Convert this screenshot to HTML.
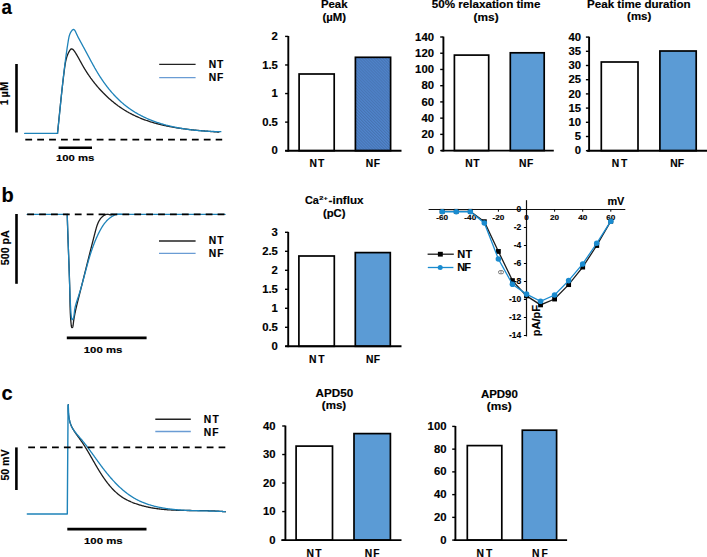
<!DOCTYPE html><html><head><meta charset="utf-8"><style>html,body{margin:0;padding:0;background:#fff;}svg{display:block;}text{font-family:"Liberation Sans", sans-serif;stroke:#000;stroke-width:0.15px;}</style></head><body>
<svg width="707" height="557" viewBox="0 0 707 557">
<defs><pattern id="hatch" width="2.1" height="2.1" patternUnits="userSpaceOnUse" patternTransform="rotate(-45)"><rect width="2.1" height="2.1" fill="#4f84cc"/><rect width="1" height="2.1" fill="#4774b2"/></pattern></defs>
<rect width="707" height="557" fill="#fff"/>
<text x="1.60" y="13.70" font-size="20.00" font-weight="bold" text-anchor="start" fill="#000" textLength="10.40" lengthAdjust="spacingAndGlyphs" >a</text>
<line x1="16.50" y1="64.00" x2="16.50" y2="132.50" stroke="#000" stroke-width="2.60" />
<text transform="translate(8.4,105.3) rotate(-90)" font-size="10.5" font-weight="bold">1</text>
<text transform="translate(8.4,97.4) rotate(-90)" font-size="10.5" font-weight="bold" textLength="15.4" lengthAdjust="spacingAndGlyphs">µM</text>
<path d="M24.7,133.4 L57.5,133.4" fill="none" stroke="#1e83b9" stroke-width="1.40" stroke-linejoin="round" stroke-linecap="round"/>
<path d="M57.50,133.41 L57.58,132.70 L57.65,131.99 L57.72,131.28 L57.79,130.57 L57.86,129.86 L57.94,129.16 L58.01,128.45 L58.08,127.75 L58.15,127.04 L58.22,126.34 L58.29,125.64 L58.36,124.94 L58.43,124.23 L58.50,123.53 L58.57,122.84 L58.65,122.14 L58.72,121.44 L58.79,120.74 L58.86,120.04 L58.93,119.35 L59.00,118.65 L59.07,117.96 L59.14,117.26 L59.21,116.57 L59.28,115.87 L59.35,115.18 L59.42,114.49 L59.49,113.79 L59.55,113.10 L59.62,112.41 L59.69,111.72 L59.77,111.03 L59.84,110.34 L59.91,109.65 L59.98,108.96 L60.05,108.27 L60.12,107.58 L60.19,106.89 L60.26,106.20 L60.33,105.51 L60.40,104.82 L60.47,104.13 L60.54,103.44 L60.61,102.75 L60.69,102.07 L60.76,101.38 L60.83,100.69 L60.90,100.00 L60.97,99.31 L61.05,98.62 L61.12,97.93 L61.19,97.24 L61.27,96.56 L61.34,95.87 L61.41,95.18 L61.49,94.49 L61.56,93.80 L61.64,93.11 L61.71,92.42 L61.79,91.73 L61.86,91.04 L61.94,90.35 L62.02,89.66 L62.09,88.97 L62.17,88.27 L62.25,87.58 L62.32,86.89 L62.40,86.20 L62.48,85.50 L62.56,84.81 L62.64,84.11 L62.72,83.42 L62.80,82.72 L62.88,82.03 L62.96,81.33 L63.04,80.64 L63.13,79.94 L63.21,79.24 L63.29,78.54 L63.38,77.84 L63.46,77.14 L63.55,76.44 L63.63,75.74 L63.72,75.04 L63.80,74.33 L63.89,73.63 L63.98,72.92 L64.07,72.22 L64.15,71.51 L64.24,70.80 L64.33,70.10 L64.42,69.39 L64.52,68.68 L64.61,67.97 L64.71,67.26 L64.80,66.55 L64.91,65.84 L65.01,65.13 L65.12,64.43 L65.24,63.73 L65.36,63.03 L65.49,62.33 L65.63,61.63 L65.77,60.94 L65.93,60.26 L66.09,59.58 L66.26,58.90 L66.44,58.23 L66.63,57.56 L66.84,56.90 L67.05,56.25 L67.28,55.60 L67.52,54.96 L67.78,54.33 L68.05,53.70 L68.33,53.08 L68.63,52.48 L68.95,51.88 L69.28,51.29 L69.63,50.71 L70.00,50.14 L70.39,49.60 L70.80,49.15 L71.25,48.88 L71.73,48.85 L72.22,49.03 L72.73,49.36 L73.22,49.79 L73.69,50.30 L74.15,50.86 L74.59,51.47 L75.02,52.10 L75.44,52.76 L75.85,53.41 L76.24,54.06 L76.63,54.70 L77.01,55.35 L77.39,55.98 L77.75,56.62 L78.11,57.25 L78.47,57.87 L78.81,58.50 L79.16,59.12 L79.50,59.74 L79.83,60.35 L80.17,60.96 L80.50,61.57 L80.83,62.18 L81.16,62.79 L81.49,63.39 L81.83,63.99 L82.16,64.59 L82.49,65.19 L82.83,65.79 L83.17,66.38 L83.52,66.98 L83.87,67.57 L84.22,68.17 L84.57,68.76 L84.93,69.35 L85.30,69.94 L85.66,70.53 L86.03,71.12 L86.40,71.70 L86.78,72.28 L87.16,72.87 L87.54,73.45 L87.92,74.03 L88.31,74.61 L88.71,75.18 L89.10,75.76 L89.50,76.33 L89.90,76.90 L90.31,77.47 L90.71,78.04 L91.13,78.60 L91.54,79.17 L91.96,79.73 L92.38,80.29 L92.80,80.85 L93.23,81.41 L93.66,81.96 L94.09,82.51 L94.53,83.06 L94.97,83.61 L95.41,84.16 L95.86,84.70 L96.31,85.24 L96.76,85.78 L97.21,86.32 L97.67,86.85 L98.13,87.39 L98.59,87.92 L99.06,88.44 L99.53,88.97 L100.00,89.49 L100.48,90.01 L100.95,90.53 L101.43,91.04 L101.92,91.55 L102.41,92.06 L102.89,92.57 L103.39,93.07 L103.88,93.57 L104.38,94.07 L104.88,94.57 L105.38,95.06 L105.89,95.55 L106.40,96.03 L106.91,96.52 L107.42,97.00 L107.94,97.47 L108.46,97.95 L108.98,98.42 L109.51,98.89 L110.03,99.35 L110.56,99.81 L111.10,100.27 L111.63,100.73 L112.17,101.18 L112.71,101.62 L113.25,102.07 L113.80,102.51 L114.35,102.95 L114.90,103.38 L115.45,103.81 L116.01,104.24 L116.56,104.66 L117.12,105.08 L117.69,105.49 L118.25,105.91 L118.82,106.31 L119.39,106.72 L119.96,107.12 L120.54,107.51 L121.11,107.91 L121.69,108.29 L122.28,108.68 L122.86,109.06 L123.45,109.44 L124.04,109.81 L124.63,110.18 L125.22,110.54 L125.82,110.90 L126.41,111.25 L127.01,111.61 L127.62,111.95 L128.22,112.29 L128.83,112.63 L129.43,112.97 L130.05,113.30 L130.66,113.62 L131.27,113.94 L131.89,114.26 L132.51,114.57 L133.13,114.88 L133.75,115.19 L134.38,115.49 L135.00,115.78 L135.63,116.08 L136.26,116.37 L136.89,116.65 L137.53,116.93 L138.16,117.21 L138.80,117.48 L139.44,117.75 L140.08,118.02 L140.73,118.28 L141.37,118.54 L142.02,118.80 L142.66,119.05 L143.31,119.30 L143.96,119.54 L144.62,119.79 L145.27,120.02 L145.92,120.26 L146.58,120.49 L147.24,120.72 L147.90,120.94 L148.56,121.16 L149.22,121.38 L149.89,121.59 L150.55,121.81 L151.22,122.01 L151.89,122.22 L152.55,122.42 L153.22,122.62 L153.90,122.82 L154.57,123.01 L155.24,123.20 L155.92,123.38 L156.59,123.57 L157.27,123.75 L157.95,123.93 L158.63,124.10 L159.30,124.28 L159.99,124.45 L160.67,124.61 L161.35,124.78 L162.03,124.94 L162.72,125.10 L163.40,125.25 L164.09,125.41 L164.78,125.56 L165.46,125.71 L166.15,125.85 L166.84,126.00 L167.53,126.14 L168.22,126.28 L168.91,126.42 L169.61,126.55 L170.30,126.68 L170.99,126.81 L171.68,126.94 L172.38,127.06 L173.07,127.19 L173.77,127.31 L174.46,127.43 L175.16,127.54 L175.86,127.66 L176.55,127.77 L177.25,127.88 L177.95,127.99 L178.64,128.10 L179.34,128.20 L180.04,128.31 L180.74,128.41 L181.44,128.51 L182.14,128.61 L182.84,128.70 L183.54,128.80 L184.23,128.89 L184.93,128.98 L185.63,129.07 L186.33,129.16 L187.03,129.24 L187.73,129.33 L188.43,129.41 L189.13,129.49 L189.83,129.57 L190.53,129.65 L191.23,129.73 L191.93,129.81 L192.62,129.88 L193.32,129.96 L194.02,130.03 L194.72,130.10 L195.42,130.17 L196.11,130.24 L196.81,130.31 L197.51,130.38 L198.20,130.44 L198.90,130.51 L199.59,130.57 L200.29,130.63 L200.98,130.70 L201.68,130.76 L202.37,130.82 L203.06,130.88 L203.76,130.94 L204.45,130.99 L205.14,131.05 L205.83,131.11 L206.52,131.16 L207.21,131.22 L207.90,131.27 L208.58,131.33 L209.27,131.38 L209.96,131.44 L210.64,131.49 L211.32,131.54 L212.01,131.59 L212.69,131.64 L213.37,131.70 L214.05,131.75 L214.73,131.80 L215.41,131.85 L216.09,131.90 L216.76,131.95 L217.44,132.00 L218.11,132.05 L218.79,132.10" fill="none" stroke="#1c1c1c" stroke-width="1.30" stroke-linejoin="round" stroke-linecap="round"/>
<path d="M57.49,133.42 L57.57,132.71 L57.65,132.01 L57.72,131.31 L57.80,130.61 L57.88,129.91 L57.96,129.21 L58.03,128.50 L58.11,127.80 L58.18,127.10 L58.26,126.40 L58.33,125.70 L58.41,125.01 L58.48,124.31 L58.56,123.61 L58.63,122.91 L58.70,122.21 L58.77,121.51 L58.85,120.81 L58.92,120.12 L58.99,119.42 L59.06,118.72 L59.14,118.02 L59.21,117.33 L59.28,116.63 L59.35,115.93 L59.42,115.24 L59.49,114.54 L59.56,113.85 L59.63,113.15 L59.70,112.46 L59.77,111.76 L59.84,111.07 L59.91,110.37 L59.98,109.68 L60.05,108.98 L60.12,108.29 L60.19,107.59 L60.26,106.90 L60.33,106.20 L60.40,105.51 L60.47,104.82 L60.54,104.12 L60.61,103.43 L60.68,102.74 L60.75,102.04 L60.82,101.35 L60.89,100.66 L60.96,99.96 L61.03,99.27 L61.10,98.58 L61.17,97.89 L61.24,97.19 L61.31,96.50 L61.38,95.81 L61.45,95.12 L61.52,94.42 L61.59,93.73 L61.66,93.04 L61.73,92.35 L61.80,91.65 L61.87,90.96 L61.95,90.27 L62.02,89.58 L62.09,88.88 L62.16,88.19 L62.23,87.50 L62.31,86.81 L62.38,86.12 L62.45,85.42 L62.53,84.73 L62.60,84.04 L62.68,83.35 L62.75,82.66 L62.83,81.96 L62.90,81.27 L62.98,80.58 L63.05,79.89 L63.13,79.19 L63.21,78.50 L63.29,77.81 L63.36,77.12 L63.44,76.42 L63.52,75.73 L63.60,75.04 L63.68,74.34 L63.76,73.65 L63.84,72.96 L63.92,72.26 L64.00,71.57 L64.09,70.88 L64.17,70.18 L64.25,69.49 L64.34,68.80 L64.42,68.10 L64.51,67.41 L64.59,66.71 L64.68,66.02 L64.76,65.32 L64.85,64.63 L64.94,63.93 L65.03,63.24 L65.12,62.54 L65.21,61.85 L65.30,61.15 L65.39,60.46 L65.48,59.76 L65.57,59.07 L65.67,58.37 L65.76,57.67 L65.86,56.98 L65.95,56.28 L66.05,55.58 L66.15,54.88 L66.24,54.19 L66.34,53.49 L66.44,52.79 L66.54,52.09 L66.64,51.39 L66.75,50.69 L66.85,49.99 L66.95,49.30 L67.06,48.60 L67.16,47.90 L67.27,47.20 L67.38,46.49 L67.49,45.79 L67.60,45.09 L67.71,44.39 L67.82,43.69 L67.93,42.99 L68.04,42.28 L68.16,41.58 L68.27,40.88 L68.39,40.18 L68.51,39.47 L68.63,38.77 L68.76,38.08 L68.91,37.39 L69.07,36.70 L69.24,36.03 L69.43,35.36 L69.64,34.70 L69.88,34.06 L70.14,33.43 L70.43,32.82 L70.76,32.22 L71.11,31.64 L71.50,31.08 L71.93,30.55 L72.39,30.07 L72.86,29.71 L73.32,29.51 L73.76,29.52 L74.18,29.73 L74.58,30.10 L74.96,30.61 L75.32,31.22 L75.67,31.91 L76.01,32.65 L76.35,33.41 L76.68,34.15 L77.00,34.87 L77.32,35.55 L77.64,36.21 L77.96,36.85 L78.28,37.47 L78.60,38.07 L78.91,38.66 L79.23,39.25 L79.55,39.83 L79.87,40.42 L80.19,41.01 L80.51,41.60 L80.83,42.19 L81.16,42.79 L81.48,43.39 L81.81,44.00 L82.14,44.61 L82.47,45.22 L82.80,45.83 L83.13,46.44 L83.46,47.06 L83.79,47.68 L84.12,48.30 L84.46,48.92 L84.79,49.54 L85.13,50.16 L85.46,50.78 L85.80,51.41 L86.13,52.03 L86.47,52.66 L86.80,53.28 L87.14,53.91 L87.47,54.53 L87.80,55.16 L88.14,55.78 L88.47,56.40 L88.81,57.02 L89.14,57.64 L89.47,58.26 L89.80,58.88 L90.13,59.49 L90.47,60.11 L90.80,60.72 L91.13,61.33 L91.46,61.94 L91.79,62.55 L92.12,63.16 L92.45,63.77 L92.79,64.37 L93.12,64.97 L93.46,65.58 L93.79,66.18 L94.13,66.78 L94.47,67.38 L94.80,67.98 L95.15,68.57 L95.49,69.17 L95.83,69.76 L96.18,70.36 L96.52,70.95 L96.87,71.54 L97.23,72.13 L97.58,72.72 L97.94,73.31 L98.30,73.90 L98.66,74.48 L99.02,75.07 L99.39,75.65 L99.76,76.24 L100.13,76.82 L100.51,77.40 L100.89,77.98 L101.27,78.56 L101.66,79.14 L102.05,79.72 L102.44,80.30 L102.84,80.87 L103.24,81.45 L103.64,82.02 L104.05,82.60 L104.46,83.17 L104.87,83.74 L105.29,84.31 L105.71,84.87 L106.13,85.44 L106.56,86.00 L106.99,86.56 L107.42,87.12 L107.86,87.68 L108.30,88.23 L108.74,88.79 L109.19,89.34 L109.64,89.89 L110.09,90.43 L110.55,90.98 L111.01,91.52 L111.47,92.06 L111.94,92.59 L112.41,93.13 L112.88,93.66 L113.36,94.18 L113.84,94.71 L114.32,95.23 L114.80,95.75 L115.29,96.26 L115.78,96.78 L116.28,97.28 L116.77,97.79 L117.27,98.29 L117.78,98.79 L118.28,99.28 L118.79,99.77 L119.30,100.26 L119.82,100.74 L120.34,101.22 L120.86,101.70 L121.38,102.17 L121.91,102.63 L122.44,103.10 L122.98,103.55 L123.51,104.01 L124.05,104.46 L124.59,104.90 L125.14,105.34 L125.69,105.78 L126.24,106.21 L126.79,106.63 L127.35,107.05 L127.91,107.47 L128.47,107.88 L129.03,108.29 L129.60,108.69 L130.17,109.09 L130.74,109.48 L131.32,109.87 L131.89,110.26 L132.47,110.64 L133.06,111.01 L133.64,111.38 L134.23,111.75 L134.82,112.12 L135.41,112.47 L136.01,112.83 L136.61,113.18 L137.21,113.52 L137.81,113.87 L138.41,114.20 L139.02,114.54 L139.63,114.87 L140.24,115.19 L140.85,115.51 L141.47,115.83 L142.08,116.14 L142.70,116.45 L143.33,116.76 L143.95,117.06 L144.57,117.36 L145.20,117.65 L145.83,117.94 L146.46,118.23 L147.10,118.51 L147.73,118.79 L148.37,119.06 L149.01,119.33 L149.65,119.60 L150.29,119.86 L150.94,120.12 L151.58,120.38 L152.23,120.63 L152.88,120.88 L153.53,121.12 L154.18,121.36 L154.84,121.60 L155.49,121.83 L156.15,122.06 L156.81,122.29 L157.47,122.52 L158.13,122.74 L158.79,122.95 L159.46,123.17 L160.12,123.38 L160.79,123.59 L161.46,123.79 L162.13,123.99 L162.80,124.19 L163.47,124.38 L164.15,124.57 L164.82,124.76 L165.50,124.94 L166.17,125.13 L166.85,125.30 L167.53,125.48 L168.21,125.65 L168.89,125.82 L169.57,125.99 L170.26,126.15 L170.94,126.31 L171.63,126.47 L172.31,126.62 L173.00,126.78 L173.69,126.92 L174.37,127.07 L175.06,127.21 L175.75,127.35 L176.44,127.49 L177.13,127.63 L177.83,127.76 L178.52,127.89 L179.21,128.02 L179.90,128.14 L180.60,128.26 L181.29,128.38 L181.99,128.50 L182.68,128.61 L183.38,128.72 L184.08,128.83 L184.77,128.94 L185.47,129.04 L186.17,129.14 L186.86,129.24 L187.56,129.34 L188.26,129.44 L188.96,129.53 L189.66,129.62 L190.36,129.71 L191.06,129.79 L191.75,129.87 L192.45,129.96 L193.15,130.04 L193.85,130.11 L194.55,130.19 L195.25,130.26 L195.95,130.33 L196.65,130.40 L197.35,130.47 L198.05,130.53 L198.75,130.59 L199.44,130.65 L200.14,130.71 L200.84,130.77 L201.54,130.82 L202.24,130.88 L202.93,130.93 L203.63,130.98 L204.33,131.03 L205.02,131.07 L205.72,131.12 L206.41,131.16 L207.11,131.20 L207.80,131.24 L208.50,131.28 L209.19,131.31 L209.88,131.35 L210.57,131.38 L211.26,131.41 L211.96,131.44 L212.64,131.47 L213.33,131.50 L214.02,131.52 L214.71,131.55 L215.40,131.57 L216.08,131.59 L216.77,131.61 L217.45,131.63 L218.13,131.65 L218.82,131.66 L219.50,131.68 L220.18,131.69 L220.86,131.71" fill="none" stroke="#1e83b9" stroke-width="1.30" stroke-linejoin="round" stroke-linecap="round"/>
<line x1="25.30" y1="139.60" x2="222.20" y2="139.60" stroke="#000" stroke-width="1.70" stroke-dasharray="6.80 5.10"/>
<line x1="58.60" y1="147.70" x2="92.00" y2="147.70" stroke="#000" stroke-width="2.40" />
<text x="56.00" y="161.10" font-size="9.60" font-weight="bold" text-anchor="start" fill="#000" textLength="38.40" lengthAdjust="spacingAndGlyphs" >100 ms</text>
<line x1="159.20" y1="64.40" x2="195.60" y2="64.40" stroke="#222" stroke-width="1.40" />
<line x1="159.20" y1="77.60" x2="195.60" y2="77.60" stroke="#6a9cd4" stroke-width="1.40" />
<text x="208.80" y="67.80" font-size="10.30" font-weight="bold" text-anchor="start" fill="#000" textLength="14.60" lengthAdjust="spacing" >NT</text>
<text x="208.80" y="80.90" font-size="10.30" font-weight="bold" text-anchor="start" fill="#000" textLength="14.60" lengthAdjust="spacing" >NF</text>
<rect x="299.10" y="74.00" width="35.10" height="76.70" fill="#fff" stroke="#000" stroke-width="1.7"/>
<rect x="355.40" y="57.30" width="35.20" height="93.40" fill="url(#hatch)" stroke="#000" stroke-width="1.7"/>
<line x1="288.30" y1="36.00" x2="288.30" y2="151.60" stroke="#000" stroke-width="1.90" />
<line x1="285.20" y1="150.70" x2="401.50" y2="150.70" stroke="#000" stroke-width="1.90" />
<line x1="285.10" y1="36.40" x2="288.30" y2="36.40" stroke="#000" stroke-width="1.40" />
<text x="277.90" y="40.00" font-size="10.30" font-weight="bold" text-anchor="end" fill="#000" textLength="6.30" lengthAdjust="spacingAndGlyphs" >2</text>
<line x1="285.10" y1="64.97" x2="288.30" y2="64.97" stroke="#000" stroke-width="1.40" />
<text x="277.90" y="68.57" font-size="10.30" font-weight="bold" text-anchor="end" fill="#000" textLength="15.75" lengthAdjust="spacingAndGlyphs" >1.5</text>
<line x1="285.10" y1="93.55" x2="288.30" y2="93.55" stroke="#000" stroke-width="1.40" />
<text x="277.90" y="97.15" font-size="10.30" font-weight="bold" text-anchor="end" fill="#000" textLength="6.30" lengthAdjust="spacingAndGlyphs" >1</text>
<line x1="285.10" y1="122.12" x2="288.30" y2="122.12" stroke="#000" stroke-width="1.40" />
<text x="277.90" y="125.72" font-size="10.30" font-weight="bold" text-anchor="end" fill="#000" textLength="15.75" lengthAdjust="spacingAndGlyphs" >0.5</text>
<line x1="285.10" y1="150.70" x2="288.30" y2="150.70" stroke="#000" stroke-width="1.40" />
<text x="277.90" y="154.30" font-size="10.30" font-weight="bold" text-anchor="end" fill="#000" textLength="6.30" lengthAdjust="spacingAndGlyphs" >0</text>
<text x="309.40" y="167.40" font-size="10.30" font-weight="bold" text-anchor="start" fill="#000" textLength="15.00" lengthAdjust="spacing" >NT</text>
<text x="365.80" y="167.40" font-size="10.30" font-weight="bold" text-anchor="start" fill="#000" textLength="14.20" lengthAdjust="spacing" >NF</text>
<text x="320.90" y="8.00" font-size="10.30" font-weight="bold" text-anchor="start" fill="#000" textLength="26.60" lengthAdjust="spacingAndGlyphs" >Peak</text>
<text x="322.40" y="20.60" font-size="10.30" font-weight="bold" text-anchor="start" fill="#000" textLength="23.60" lengthAdjust="spacingAndGlyphs" >(µM)</text>
<rect x="454.40" y="55.10" width="34.30" height="95.50" fill="#fff" stroke="#000" stroke-width="1.7"/>
<rect x="510.30" y="52.80" width="33.90" height="97.80" fill="#5b9bd5" stroke="#000" stroke-width="1.7"/>
<line x1="443.40" y1="36.60" x2="443.40" y2="151.50" stroke="#000" stroke-width="1.90" />
<line x1="441.20" y1="150.60" x2="553.80" y2="150.60" stroke="#000" stroke-width="1.90" />
<line x1="440.20" y1="37.00" x2="443.40" y2="37.00" stroke="#000" stroke-width="1.40" />
<text x="434.00" y="40.60" font-size="10.30" font-weight="bold" text-anchor="end" fill="#000" textLength="18.90" lengthAdjust="spacingAndGlyphs" >140</text>
<line x1="440.20" y1="53.23" x2="443.40" y2="53.23" stroke="#000" stroke-width="1.40" />
<text x="434.00" y="56.83" font-size="10.30" font-weight="bold" text-anchor="end" fill="#000" textLength="18.90" lengthAdjust="spacingAndGlyphs" >120</text>
<line x1="440.20" y1="69.46" x2="443.40" y2="69.46" stroke="#000" stroke-width="1.40" />
<text x="434.00" y="73.06" font-size="10.30" font-weight="bold" text-anchor="end" fill="#000" textLength="18.90" lengthAdjust="spacingAndGlyphs" >100</text>
<line x1="440.20" y1="85.69" x2="443.40" y2="85.69" stroke="#000" stroke-width="1.40" />
<text x="434.00" y="89.29" font-size="10.30" font-weight="bold" text-anchor="end" fill="#000" textLength="12.60" lengthAdjust="spacingAndGlyphs" >80</text>
<line x1="440.20" y1="101.91" x2="443.40" y2="101.91" stroke="#000" stroke-width="1.40" />
<text x="434.00" y="105.51" font-size="10.30" font-weight="bold" text-anchor="end" fill="#000" textLength="12.60" lengthAdjust="spacingAndGlyphs" >60</text>
<line x1="440.20" y1="118.14" x2="443.40" y2="118.14" stroke="#000" stroke-width="1.40" />
<text x="434.00" y="121.74" font-size="10.30" font-weight="bold" text-anchor="end" fill="#000" textLength="12.60" lengthAdjust="spacingAndGlyphs" >40</text>
<line x1="440.20" y1="134.37" x2="443.40" y2="134.37" stroke="#000" stroke-width="1.40" />
<text x="434.00" y="137.97" font-size="10.30" font-weight="bold" text-anchor="end" fill="#000" textLength="12.60" lengthAdjust="spacingAndGlyphs" >20</text>
<line x1="440.20" y1="150.60" x2="443.40" y2="150.60" stroke="#000" stroke-width="1.40" />
<text x="434.00" y="154.20" font-size="10.30" font-weight="bold" text-anchor="end" fill="#000" textLength="6.30" lengthAdjust="spacingAndGlyphs" >0</text>
<text x="465.30" y="167.00" font-size="10.30" font-weight="bold" text-anchor="start" fill="#000" textLength="14.20" lengthAdjust="spacing" >NT</text>
<text x="518.90" y="167.00" font-size="10.30" font-weight="bold" text-anchor="start" fill="#000" textLength="14.40" lengthAdjust="spacing" >NF</text>
<text x="431.80" y="8.40" font-size="10.30" font-weight="bold" text-anchor="start" fill="#000" textLength="108.60" lengthAdjust="spacingAndGlyphs" >50% relaxation time</text>
<text x="473.60" y="20.60" font-size="10.30" font-weight="bold" text-anchor="start" fill="#000" textLength="25.00" lengthAdjust="spacingAndGlyphs" >(ms)</text>
<rect x="601.30" y="62.00" width="36.70" height="88.70" fill="#fff" stroke="#000" stroke-width="1.7"/>
<rect x="659.90" y="51.00" width="36.30" height="99.70" fill="#5b9bd5" stroke="#000" stroke-width="1.7"/>
<line x1="589.10" y1="36.70" x2="589.10" y2="151.60" stroke="#000" stroke-width="1.90" />
<line x1="587.00" y1="150.70" x2="707.50" y2="150.70" stroke="#000" stroke-width="1.90" />
<line x1="585.90" y1="37.10" x2="589.10" y2="37.10" stroke="#000" stroke-width="1.40" />
<text x="581.00" y="40.70" font-size="10.30" font-weight="bold" text-anchor="end" fill="#000" textLength="12.60" lengthAdjust="spacingAndGlyphs" >40</text>
<line x1="585.90" y1="51.30" x2="589.10" y2="51.30" stroke="#000" stroke-width="1.40" />
<text x="581.00" y="54.90" font-size="10.30" font-weight="bold" text-anchor="end" fill="#000" textLength="12.60" lengthAdjust="spacingAndGlyphs" >35</text>
<line x1="585.90" y1="65.50" x2="589.10" y2="65.50" stroke="#000" stroke-width="1.40" />
<text x="581.00" y="69.10" font-size="10.30" font-weight="bold" text-anchor="end" fill="#000" textLength="12.60" lengthAdjust="spacingAndGlyphs" >30</text>
<line x1="585.90" y1="79.70" x2="589.10" y2="79.70" stroke="#000" stroke-width="1.40" />
<text x="581.00" y="83.30" font-size="10.30" font-weight="bold" text-anchor="end" fill="#000" textLength="12.60" lengthAdjust="spacingAndGlyphs" >25</text>
<line x1="585.90" y1="93.90" x2="589.10" y2="93.90" stroke="#000" stroke-width="1.40" />
<text x="581.00" y="97.50" font-size="10.30" font-weight="bold" text-anchor="end" fill="#000" textLength="12.60" lengthAdjust="spacingAndGlyphs" >20</text>
<line x1="585.90" y1="108.10" x2="589.10" y2="108.10" stroke="#000" stroke-width="1.40" />
<text x="581.00" y="111.70" font-size="10.30" font-weight="bold" text-anchor="end" fill="#000" textLength="12.60" lengthAdjust="spacingAndGlyphs" >15</text>
<line x1="585.90" y1="122.30" x2="589.10" y2="122.30" stroke="#000" stroke-width="1.40" />
<text x="581.00" y="125.90" font-size="10.30" font-weight="bold" text-anchor="end" fill="#000" textLength="12.60" lengthAdjust="spacingAndGlyphs" >10</text>
<line x1="585.90" y1="136.50" x2="589.10" y2="136.50" stroke="#000" stroke-width="1.40" />
<text x="581.00" y="140.10" font-size="10.30" font-weight="bold" text-anchor="end" fill="#000" textLength="6.30" lengthAdjust="spacingAndGlyphs" >5</text>
<line x1="585.90" y1="150.70" x2="589.10" y2="150.70" stroke="#000" stroke-width="1.40" />
<text x="581.00" y="154.30" font-size="10.30" font-weight="bold" text-anchor="end" fill="#000" textLength="6.30" lengthAdjust="spacingAndGlyphs" >0</text>
<text x="611.70" y="167.00" font-size="10.30" font-weight="bold" text-anchor="start" fill="#000" textLength="15.60" lengthAdjust="spacing" >NT</text>
<text x="670.30" y="167.00" font-size="10.30" font-weight="bold" text-anchor="start" fill="#000" textLength="13.80" lengthAdjust="spacing" >NF</text>
<text x="587.10" y="8.30" font-size="10.30" font-weight="bold" text-anchor="start" fill="#000" textLength="103.60" lengthAdjust="spacingAndGlyphs" >Peak time duration</text>
<text x="627.10" y="20.40" font-size="10.30" font-weight="bold" text-anchor="start" fill="#000" textLength="24.20" lengthAdjust="spacingAndGlyphs" >(ms)</text>
<text x="1.50" y="201.50" font-size="20.00" font-weight="bold" text-anchor="start" fill="#000" >b</text>
<line x1="16.50" y1="214.00" x2="16.50" y2="283.80" stroke="#000" stroke-width="2.60" />
<text transform="translate(8.6,265.2) rotate(-90)" font-size="10.3" font-weight="bold" textLength="35" lengthAdjust="spacingAndGlyphs">500 pA</text>
<path d="M27.2,214.4 L67.2,214.4 M110,214.4 L225,214.4" fill="none" stroke="#1e83b9" stroke-width="1.40" stroke-linejoin="round" stroke-linecap="round"/>
<path d="M67.24,214.42 L67.26,215.11 L67.28,215.81 L67.29,216.50 L67.31,217.20 L67.33,217.89 L67.35,218.59 L67.36,219.29 L67.38,219.98 L67.40,220.68 L67.42,221.37 L67.44,222.07 L67.46,222.77 L67.48,223.47 L67.50,224.16 L67.52,224.86 L67.54,225.56 L67.57,226.26 L67.59,226.95 L67.61,227.65 L67.63,228.35 L67.66,229.05 L67.68,229.75 L67.70,230.45 L67.73,231.15 L67.75,231.85 L67.77,232.54 L67.80,233.24 L67.82,233.94 L67.85,234.64 L67.87,235.34 L67.90,236.04 L67.92,236.74 L67.95,237.44 L67.97,238.14 L68.00,238.85 L68.02,239.55 L68.05,240.25 L68.08,240.95 L68.10,241.65 L68.13,242.35 L68.16,243.05 L68.18,243.75 L68.21,244.45 L68.24,245.15 L68.26,245.86 L68.29,246.56 L68.32,247.26 L68.34,247.96 L68.37,248.66 L68.40,249.36 L68.43,250.06 L68.45,250.77 L68.48,251.47 L68.51,252.17 L68.53,252.87 L68.56,253.57 L68.59,254.27 L68.62,254.98 L68.64,255.68 L68.67,256.38 L68.70,257.08 L68.72,257.78 L68.75,258.48 L68.78,259.19 L68.80,259.89 L68.83,260.59 L68.86,261.29 L68.88,261.99 L68.91,262.69 L68.94,263.39 L68.96,264.10 L68.99,264.80 L69.02,265.50 L69.04,266.20 L69.07,266.90 L69.09,267.60 L69.12,268.30 L69.14,269.00 L69.17,269.70 L69.19,270.40 L69.22,271.10 L69.24,271.80 L69.27,272.50 L69.29,273.20 L69.31,273.90 L69.34,274.60 L69.36,275.30 L69.38,276.00 L69.40,276.70 L69.43,277.40 L69.45,278.10 L69.47,278.80 L69.49,279.50 L69.51,280.20 L69.53,280.89 L69.55,281.59 L69.57,282.29 L69.59,282.99 L69.61,283.68 L69.63,284.38 L69.65,285.08 L69.67,285.78 L69.69,286.47 L69.71,287.17 L69.72,287.87 L69.74,288.56 L69.76,289.26 L69.77,289.95 L69.79,290.65 L69.80,291.34 L69.82,292.04 L69.83,292.73 L69.85,293.43 L69.86,294.12 L69.87,294.82 L69.88,295.51 L69.90,296.20 L69.91,296.90 L69.92,297.59 L69.93,298.28 L69.94,298.97 L69.95,299.67 L69.96,300.36 L69.98,301.05 L69.99,301.75 L70.00,302.44 L70.01,303.14 L70.03,303.83 L70.04,304.53 L70.06,305.23 L70.07,305.92 L70.09,306.62 L70.11,307.32 L70.13,308.02 L70.15,308.72 L70.17,309.42 L70.20,310.12 L70.23,310.83 L70.25,311.53 L70.28,312.24 L70.31,312.95 L70.35,313.66 L70.38,314.37 L70.42,315.08 L70.46,315.79 L70.50,316.51 L70.55,317.23 L70.60,317.95 L70.65,318.67 L70.70,319.39 L70.76,320.12 L70.82,320.84 L70.88,321.57 L70.94,322.31 L71.01,323.04 L71.08,323.78 L71.16,324.52 L71.24,325.26 L71.33,325.97 L71.44,326.62 L71.59,327.15 L71.78,327.52 L72.02,327.69 L72.31,327.63 L72.57,327.37 L72.77,326.94 L72.93,326.38 L73.05,325.72 L73.15,324.99 L73.24,324.23 L73.33,323.45 L73.42,322.69 L73.52,321.93 L73.62,321.17 L73.73,320.42 L73.84,319.68 L73.96,318.94 L74.07,318.20 L74.20,317.48 L74.32,316.75 L74.45,316.03 L74.58,315.31 L74.72,314.60 L74.85,313.89 L74.99,313.19 L75.14,312.49 L75.28,311.79 L75.43,311.10 L75.58,310.41 L75.73,309.72 L75.89,309.03 L76.04,308.35 L76.20,307.67 L76.36,306.99 L76.52,306.31 L76.68,305.64 L76.85,304.96 L77.01,304.29 L77.18,303.62 L77.34,302.95 L77.51,302.28 L77.68,301.61 L77.84,300.94 L78.01,300.27 L78.18,299.61 L78.35,298.94 L78.52,298.27 L78.69,297.60 L78.86,296.93 L79.02,296.26 L79.19,295.59 L79.36,294.92 L79.53,294.25 L79.70,293.58 L79.87,292.91 L80.04,292.24 L80.20,291.57 L80.37,290.89 L80.54,290.22 L80.71,289.55 L80.88,288.88 L81.04,288.20 L81.21,287.53 L81.38,286.86 L81.55,286.18 L81.72,285.51 L81.89,284.84 L82.05,284.16 L82.22,283.49 L82.39,282.81 L82.56,282.14 L82.73,281.46 L82.90,280.79 L83.06,280.11 L83.23,279.44 L83.40,278.76 L83.57,278.08 L83.74,277.41 L83.91,276.73 L84.07,276.05 L84.24,275.38 L84.41,274.70 L84.58,274.02 L84.75,273.34 L84.92,272.67 L85.09,271.99 L85.26,271.31 L85.43,270.63 L85.59,269.95 L85.76,269.27 L85.93,268.59 L86.10,267.91 L86.27,267.24 L86.44,266.56 L86.61,265.88 L86.78,265.20 L86.95,264.52 L87.12,263.84 L87.29,263.16 L87.46,262.48 L87.63,261.80 L87.80,261.12 L87.97,260.44 L88.14,259.75 L88.31,259.07 L88.48,258.39 L88.65,257.71 L88.82,257.03 L89.00,256.35 L89.17,255.67 L89.34,254.99 L89.51,254.31 L89.68,253.62 L89.85,252.94 L90.02,252.26 L90.20,251.58 L90.37,250.90 L90.54,250.21 L90.71,249.53 L90.89,248.85 L91.06,248.17 L91.23,247.49 L91.41,246.80 L91.58,246.12 L91.75,245.44 L91.93,244.76 L92.10,244.07 L92.27,243.39 L92.45,242.71 L92.62,242.02 L92.80,241.34 L92.97,240.66 L93.15,239.98 L93.32,239.29 L93.50,238.61 L93.67,237.93 L93.85,237.25 L94.03,236.56 L94.20,235.88 L94.38,235.20 L94.56,234.51 L94.73,233.83 L94.91,233.15 L95.09,232.47 L95.27,231.78 L95.44,231.10 L95.62,230.42 L95.80,229.74 L95.99,229.06 L96.18,228.38 L96.37,227.70 L96.57,227.03 L96.78,226.37 L96.99,225.71 L97.22,225.05 L97.46,224.41 L97.71,223.76 L97.97,223.13 L98.25,222.51 L98.55,221.89 L98.86,221.29 L99.19,220.69 L99.54,220.11 L99.91,219.54 L100.31,218.99 L100.72,218.44 L101.16,217.91 L101.63,217.40 L102.12,216.90 L102.64,216.42 L103.19,215.95 L103.76,215.52 L104.37,215.13 L105.00,214.80 L105.65,214.54 L106.33,214.36 L107.03,214.27 L107.76,214.30 L108.51,214.43 L109.26,214.63 L110.01,214.82 L110.73,214.90 L111.40,214.80 L112.01,214.44" fill="none" stroke="#1c1c1c" stroke-width="1.30" stroke-linejoin="round" stroke-linecap="round"/>
<path d="M67.21,214.40 L67.24,215.10 L67.26,215.80 L67.28,216.50 L67.31,217.20 L67.33,217.89 L67.36,218.59 L67.38,219.29 L67.40,219.99 L67.43,220.69 L67.45,221.39 L67.48,222.09 L67.50,222.79 L67.52,223.49 L67.55,224.19 L67.57,224.89 L67.60,225.59 L67.62,226.29 L67.64,226.98 L67.67,227.68 L67.69,228.38 L67.72,229.08 L67.74,229.78 L67.76,230.48 L67.79,231.18 L67.81,231.88 L67.83,232.57 L67.86,233.27 L67.88,233.97 L67.91,234.67 L67.93,235.37 L67.95,236.07 L67.98,236.76 L68.00,237.46 L68.02,238.16 L68.05,238.86 L68.07,239.56 L68.10,240.26 L68.12,240.95 L68.14,241.65 L68.17,242.35 L68.19,243.05 L68.21,243.75 L68.24,244.44 L68.26,245.14 L68.28,245.84 L68.31,246.54 L68.33,247.24 L68.36,247.94 L68.38,248.63 L68.40,249.33 L68.43,250.03 L68.45,250.73 L68.47,251.43 L68.50,252.12 L68.52,252.82 L68.54,253.52 L68.57,254.22 L68.59,254.92 L68.62,255.62 L68.64,256.31 L68.66,257.01 L68.69,257.71 L68.71,258.41 L68.73,259.11 L68.76,259.81 L68.78,260.51 L68.80,261.20 L68.83,261.90 L68.85,262.60 L68.88,263.30 L68.90,264.00 L68.92,264.70 L68.95,265.40 L68.97,266.10 L68.99,266.79 L69.02,267.49 L69.04,268.19 L69.07,268.89 L69.09,269.59 L69.11,270.29 L69.14,270.99 L69.16,271.69 L69.18,272.39 L69.21,273.09 L69.23,273.79 L69.26,274.49 L69.28,275.19 L69.30,275.89 L69.33,276.59 L69.35,277.29 L69.38,277.99 L69.40,278.69 L69.42,279.39 L69.45,280.09 L69.47,280.79 L69.50,281.49 L69.52,282.19 L69.55,282.89 L69.57,283.59 L69.60,284.29 L69.62,284.99 L69.65,285.69 L69.67,286.39 L69.70,287.09 L69.72,287.79 L69.75,288.49 L69.78,289.19 L69.80,289.89 L69.83,290.58 L69.86,291.28 L69.89,291.98 L69.91,292.68 L69.94,293.38 L69.97,294.08 L70.00,294.77 L70.03,295.47 L70.06,296.17 L70.09,296.87 L70.12,297.56 L70.15,298.26 L70.18,298.96 L70.21,299.65 L70.25,300.35 L70.28,301.04 L70.31,301.74 L70.35,302.43 L70.38,303.13 L70.41,303.82 L70.45,304.51 L70.48,305.21 L70.52,305.90 L70.56,306.59 L70.60,307.28 L70.63,307.97 L70.67,308.67 L70.71,309.36 L70.75,310.05 L70.79,310.74 L70.84,311.44 L70.89,312.14 L70.94,312.85 L71.00,313.57 L71.07,314.30 L71.14,315.04 L71.23,315.79 L71.32,316.56 L71.42,317.34 L71.53,318.11 L71.67,318.80 L71.84,319.33 L72.05,319.65 L72.31,319.67 L72.61,319.42 L72.91,318.98 L73.18,318.47 L73.41,317.90 L73.60,317.29 L73.76,316.64 L73.90,315.95 L74.02,315.24 L74.12,314.51 L74.21,313.76 L74.30,312.99 L74.38,312.22 L74.46,311.45 L74.55,310.67 L74.65,309.91 L74.77,309.16 L74.89,308.42 L75.04,307.69 L75.19,306.97 L75.35,306.26 L75.53,305.55 L75.71,304.86 L75.90,304.17 L76.10,303.49 L76.30,302.81 L76.51,302.14 L76.73,301.47 L76.95,300.81 L77.17,300.15 L77.39,299.49 L77.61,298.83 L77.83,298.17 L78.05,297.52 L78.27,296.86 L78.49,296.20 L78.70,295.54 L78.91,294.88 L79.12,294.22 L79.33,293.56 L79.53,292.90 L79.74,292.24 L79.94,291.58 L80.14,290.91 L80.34,290.25 L80.53,289.58 L80.73,288.92 L80.92,288.25 L81.11,287.59 L81.30,286.92 L81.49,286.25 L81.68,285.59 L81.87,284.92 L82.05,284.25 L82.24,283.58 L82.42,282.91 L82.61,282.24 L82.79,281.57 L82.97,280.90 L83.15,280.23 L83.33,279.56 L83.51,278.89 L83.69,278.22 L83.87,277.55 L84.05,276.88 L84.23,276.21 L84.41,275.54 L84.59,274.86 L84.76,274.19 L84.94,273.52 L85.12,272.85 L85.30,272.17 L85.48,271.50 L85.66,270.83 L85.84,270.16 L86.02,269.49 L86.20,268.81 L86.38,268.14 L86.56,267.47 L86.74,266.80 L86.93,266.13 L87.11,265.45 L87.30,264.78 L87.48,264.11 L87.67,263.44 L87.86,262.77 L88.05,262.10 L88.24,261.43 L88.43,260.76 L88.63,260.09 L88.82,259.42 L89.02,258.75 L89.22,258.08 L89.42,257.41 L89.62,256.74 L89.83,256.07 L90.03,255.41 L90.24,254.74 L90.45,254.07 L90.66,253.41 L90.88,252.74 L91.10,252.08 L91.31,251.41 L91.54,250.75 L91.76,250.09 L91.99,249.42 L92.22,248.76 L92.45,248.10 L92.68,247.44 L92.92,246.78 L93.16,246.12 L93.41,245.46 L93.65,244.80 L93.90,244.15 L94.15,243.49 L94.41,242.84 L94.67,242.18 L94.93,241.53 L95.20,240.87 L95.47,240.22 L95.74,239.57 L96.02,238.92 L96.30,238.27 L96.59,237.62 L96.88,236.98 L97.17,236.33 L97.47,235.69 L97.77,235.04 L98.07,234.40 L98.38,233.76 L98.69,233.12 L99.01,232.48 L99.34,231.84 L99.66,231.21 L100.00,230.58 L100.34,229.95 L100.68,229.33 L101.03,228.71 L101.39,228.09 L101.76,227.49 L102.13,226.89 L102.51,226.29 L102.89,225.70 L103.29,225.12 L103.69,224.55 L104.10,223.99 L104.51,223.43 L104.94,222.89 L105.38,222.35 L105.82,221.83 L106.27,221.31 L106.74,220.81 L107.21,220.32 L107.69,219.84 L108.19,219.37 L108.69,218.92 L109.21,218.48 L109.73,218.06 L110.27,217.65 L110.82,217.25 L111.38,216.87 L111.95,216.51 L112.54,216.16 L113.13,215.83 L113.74,215.52 L114.37,215.22 L115.00,214.95 L115.65,214.71 L116.31,214.50 L116.99,214.32 L117.67,214.18 L118.37,214.09 L119.08,214.05 L119.79,214.06 L120.53,214.12 L121.27,214.25 L122.02,214.45" fill="none" stroke="#1e83b9" stroke-width="1.30" stroke-linejoin="round" stroke-linecap="round"/>
<line x1="27.20" y1="214.40" x2="225.10" y2="214.40" stroke="#000" stroke-width="1.70" stroke-dasharray="6.80 5.10"/>
<line x1="66.80" y1="337.80" x2="146.60" y2="337.80" stroke="#000" stroke-width="2.70" />
<text x="83.80" y="353.10" font-size="9.60" font-weight="bold" text-anchor="start" fill="#000" textLength="38.60" lengthAdjust="spacingAndGlyphs" >100 ms</text>
<line x1="159.00" y1="241.00" x2="195.60" y2="241.00" stroke="#222" stroke-width="1.40" />
<line x1="159.00" y1="253.40" x2="195.60" y2="253.40" stroke="#6a9cd4" stroke-width="1.40" />
<text x="208.70" y="244.20" font-size="10.30" font-weight="bold" text-anchor="start" fill="#000" textLength="14.80" lengthAdjust="spacing" >NT</text>
<text x="208.70" y="257.40" font-size="10.30" font-weight="bold" text-anchor="start" fill="#000" textLength="14.80" lengthAdjust="spacing" >NF</text>
<rect x="298.90" y="256.00" width="35.40" height="90.30" fill="#fff" stroke="#000" stroke-width="1.7"/>
<rect x="355.30" y="252.60" width="35.00" height="93.70" fill="#5b9bd5" stroke="#000" stroke-width="1.7"/>
<line x1="288.20" y1="231.90" x2="288.20" y2="347.20" stroke="#000" stroke-width="1.90" />
<line x1="285.20" y1="346.30" x2="401.50" y2="346.30" stroke="#000" stroke-width="1.90" />
<line x1="285.00" y1="232.30" x2="288.20" y2="232.30" stroke="#000" stroke-width="1.40" />
<text x="277.90" y="235.90" font-size="10.30" font-weight="bold" text-anchor="end" fill="#000" textLength="6.30" lengthAdjust="spacingAndGlyphs" >3</text>
<line x1="285.00" y1="251.30" x2="288.20" y2="251.30" stroke="#000" stroke-width="1.40" />
<text x="277.90" y="254.90" font-size="10.30" font-weight="bold" text-anchor="end" fill="#000" textLength="15.75" lengthAdjust="spacingAndGlyphs" >2.5</text>
<line x1="285.00" y1="270.30" x2="288.20" y2="270.30" stroke="#000" stroke-width="1.40" />
<text x="277.90" y="273.90" font-size="10.30" font-weight="bold" text-anchor="end" fill="#000" textLength="6.30" lengthAdjust="spacingAndGlyphs" >2</text>
<line x1="285.00" y1="289.30" x2="288.20" y2="289.30" stroke="#000" stroke-width="1.40" />
<text x="277.90" y="292.90" font-size="10.30" font-weight="bold" text-anchor="end" fill="#000" textLength="15.75" lengthAdjust="spacingAndGlyphs" >1.5</text>
<line x1="285.00" y1="308.30" x2="288.20" y2="308.30" stroke="#000" stroke-width="1.40" />
<text x="277.90" y="311.90" font-size="10.30" font-weight="bold" text-anchor="end" fill="#000" textLength="6.30" lengthAdjust="spacingAndGlyphs" >1</text>
<line x1="285.00" y1="327.30" x2="288.20" y2="327.30" stroke="#000" stroke-width="1.40" />
<text x="277.90" y="330.90" font-size="10.30" font-weight="bold" text-anchor="end" fill="#000" textLength="15.75" lengthAdjust="spacingAndGlyphs" >0.5</text>
<line x1="285.00" y1="346.30" x2="288.20" y2="346.30" stroke="#000" stroke-width="1.40" />
<text x="277.90" y="349.90" font-size="10.30" font-weight="bold" text-anchor="end" fill="#000" textLength="6.30" lengthAdjust="spacingAndGlyphs" >0</text>
<text x="309.00" y="363.20" font-size="10.30" font-weight="bold" text-anchor="start" fill="#000" textLength="15.60" lengthAdjust="spacing" >NT</text>
<text x="366.00" y="363.20" font-size="10.30" font-weight="bold" text-anchor="start" fill="#000" textLength="14.00" lengthAdjust="spacing" >NF</text>
<text x="305.00" y="203.80" font-size="10.30" font-weight="bold" text-anchor="start" fill="#000" textLength="13.90" lengthAdjust="spacingAndGlyphs" >Ca</text>
<text x="319.30" y="199.60" font-size="5.80" font-weight="bold" text-anchor="start" fill="#000" textLength="8.40" lengthAdjust="spacingAndGlyphs" >2+</text>
<text x="328.60" y="203.80" font-size="10.30" font-weight="bold" text-anchor="start" fill="#000" textLength="34.90" lengthAdjust="spacingAndGlyphs" >-influx</text>
<text x="322.90" y="217.00" font-size="10.30" font-weight="bold" text-anchor="start" fill="#000" textLength="22.60" lengthAdjust="spacingAndGlyphs" >(pC)</text>
<line x1="428.60" y1="209.50" x2="625.30" y2="209.50" stroke="#111" stroke-width="1.20" />
<line x1="526.50" y1="200.20" x2="526.50" y2="336.40" stroke="#111" stroke-width="1.20" />
<line x1="442.20" y1="209.50" x2="442.20" y2="211.70" stroke="#000" stroke-width="1.00" />
<text x="442.20" y="220.20" font-size="7.80" font-weight="bold" text-anchor="middle" fill="#000" textLength="11.84" lengthAdjust="spacingAndGlyphs" >-60</text>
<line x1="470.30" y1="209.50" x2="470.30" y2="211.70" stroke="#000" stroke-width="1.00" />
<text x="470.30" y="220.20" font-size="7.80" font-weight="bold" text-anchor="middle" fill="#000" textLength="11.84" lengthAdjust="spacingAndGlyphs" >-40</text>
<line x1="498.40" y1="209.50" x2="498.40" y2="211.70" stroke="#000" stroke-width="1.00" />
<text x="498.40" y="220.20" font-size="7.80" font-weight="bold" text-anchor="middle" fill="#000" textLength="11.84" lengthAdjust="spacingAndGlyphs" >-20</text>
<line x1="526.50" y1="209.50" x2="526.50" y2="211.70" stroke="#000" stroke-width="1.00" />
<text x="526.50" y="220.20" font-size="7.80" font-weight="bold" text-anchor="middle" fill="#000" textLength="4.55" lengthAdjust="spacingAndGlyphs" >0</text>
<line x1="554.60" y1="209.50" x2="554.60" y2="211.70" stroke="#000" stroke-width="1.00" />
<text x="554.60" y="220.20" font-size="7.80" font-weight="bold" text-anchor="middle" fill="#000" textLength="9.11" lengthAdjust="spacingAndGlyphs" >20</text>
<line x1="582.70" y1="209.50" x2="582.70" y2="211.70" stroke="#000" stroke-width="1.00" />
<text x="582.70" y="220.20" font-size="7.80" font-weight="bold" text-anchor="middle" fill="#000" textLength="9.11" lengthAdjust="spacingAndGlyphs" >40</text>
<line x1="610.80" y1="209.50" x2="610.80" y2="211.70" stroke="#000" stroke-width="1.00" />
<text x="610.80" y="220.20" font-size="7.80" font-weight="bold" text-anchor="middle" fill="#000" textLength="9.11" lengthAdjust="spacingAndGlyphs" >60</text>
<line x1="523.90" y1="209.50" x2="526.50" y2="209.50" stroke="#000" stroke-width="1.00" />
<text x="521.30" y="212.30" font-size="8.50" font-weight="bold" text-anchor="end" fill="#000" textLength="4.73" lengthAdjust="spacingAndGlyphs" >0</text>
<line x1="523.90" y1="227.50" x2="526.50" y2="227.50" stroke="#000" stroke-width="1.00" />
<text x="521.30" y="230.30" font-size="8.50" font-weight="bold" text-anchor="end" fill="#000" textLength="7.56" lengthAdjust="spacingAndGlyphs" >-2</text>
<line x1="523.90" y1="245.50" x2="526.50" y2="245.50" stroke="#000" stroke-width="1.00" />
<text x="521.30" y="248.30" font-size="8.50" font-weight="bold" text-anchor="end" fill="#000" textLength="7.56" lengthAdjust="spacingAndGlyphs" >-4</text>
<line x1="523.90" y1="263.50" x2="526.50" y2="263.50" stroke="#000" stroke-width="1.00" />
<text x="521.30" y="266.30" font-size="8.50" font-weight="bold" text-anchor="end" fill="#000" textLength="7.56" lengthAdjust="spacingAndGlyphs" >-6</text>
<line x1="523.90" y1="281.50" x2="526.50" y2="281.50" stroke="#000" stroke-width="1.00" />
<text x="521.30" y="284.30" font-size="8.50" font-weight="bold" text-anchor="end" fill="#000" textLength="7.56" lengthAdjust="spacingAndGlyphs" >-8</text>
<line x1="523.90" y1="299.50" x2="526.50" y2="299.50" stroke="#000" stroke-width="1.00" />
<text x="521.30" y="302.30" font-size="8.50" font-weight="bold" text-anchor="end" fill="#000" textLength="12.29" lengthAdjust="spacingAndGlyphs" >-10</text>
<line x1="523.90" y1="317.50" x2="526.50" y2="317.50" stroke="#000" stroke-width="1.00" />
<text x="521.30" y="320.30" font-size="8.50" font-weight="bold" text-anchor="end" fill="#000" textLength="12.29" lengthAdjust="spacingAndGlyphs" >-12</text>
<line x1="523.90" y1="335.50" x2="526.50" y2="335.50" stroke="#000" stroke-width="1.00" />
<text x="521.30" y="338.30" font-size="8.50" font-weight="bold" text-anchor="end" fill="#000" textLength="12.29" lengthAdjust="spacingAndGlyphs" >-14</text>
<text x="607.40" y="205.40" font-size="11.50" font-weight="bold" text-anchor="start" fill="#000" textLength="17.00" lengthAdjust="spacingAndGlyphs" >mV</text>
<text transform="translate(540.2,336.3) rotate(-90)" font-size="10.7" font-weight="bold" textLength="31.2" lengthAdjust="spacingAndGlyphs">pA/pF</text>
<polyline points="442.20,211.30 456.25,211.30 470.30,211.30 484.35,221.65 498.40,251.44 512.45,280.60 526.50,295.90 540.55,304.90 554.60,299.05 568.65,284.65 582.70,267.10 596.75,245.50 610.80,221.20" fill="none" stroke="#1c1c1c" stroke-width="1.3"/>
<rect x="439.80" y="208.90" width="4.8" height="4.8" fill="#000"/>
<rect x="453.85" y="208.90" width="4.8" height="4.8" fill="#000"/>
<rect x="467.90" y="208.90" width="4.8" height="4.8" fill="#000"/>
<rect x="481.95" y="219.25" width="4.8" height="4.8" fill="#000"/>
<rect x="496.00" y="249.04" width="4.8" height="4.8" fill="#000"/>
<rect x="510.05" y="278.20" width="4.8" height="4.8" fill="#000"/>
<rect x="524.10" y="293.50" width="4.8" height="4.8" fill="#000"/>
<rect x="538.15" y="302.50" width="4.8" height="4.8" fill="#000"/>
<rect x="552.20" y="296.65" width="4.8" height="4.8" fill="#000"/>
<rect x="566.25" y="282.25" width="4.8" height="4.8" fill="#000"/>
<rect x="580.30" y="264.70" width="4.8" height="4.8" fill="#000"/>
<rect x="594.35" y="243.10" width="4.8" height="4.8" fill="#000"/>
<rect x="608.40" y="218.80" width="4.8" height="4.8" fill="#000"/>
<polyline points="442.20,211.75 456.25,211.75 470.30,211.75 484.35,223.00 498.40,259.00 512.45,284.20 526.50,294.10 540.55,301.30 554.60,295.00 568.65,280.60 582.70,263.95 596.75,243.25 610.80,221.20" fill="none" stroke="#1a8bcf" stroke-width="1.3"/>
<circle cx="442.20" cy="211.75" r="2.8" fill="#1a8bcf"/>
<circle cx="456.25" cy="211.75" r="2.8" fill="#1a8bcf"/>
<circle cx="470.30" cy="211.75" r="2.8" fill="#1a8bcf"/>
<circle cx="484.35" cy="223.00" r="2.8" fill="#1a8bcf"/>
<circle cx="498.40" cy="259.00" r="2.8" fill="#1a8bcf"/>
<circle cx="512.45" cy="284.20" r="2.8" fill="#1a8bcf"/>
<circle cx="526.50" cy="294.10" r="2.8" fill="#1a8bcf"/>
<circle cx="540.55" cy="301.30" r="2.8" fill="#1a8bcf"/>
<circle cx="554.60" cy="295.00" r="2.8" fill="#1a8bcf"/>
<circle cx="568.65" cy="280.60" r="2.8" fill="#1a8bcf"/>
<circle cx="582.70" cy="263.95" r="2.8" fill="#1a8bcf"/>
<circle cx="596.75" cy="243.25" r="2.8" fill="#1a8bcf"/>
<circle cx="610.80" cy="221.20" r="2.8" fill="#1a8bcf"/>
<line x1="427.60" y1="254.20" x2="453.80" y2="254.20" stroke="#1c1c1c" stroke-width="1.30" />
<rect x="437.9" y="251.8" width="4.9" height="4.8" fill="#000"/>
<line x1="427.80" y1="267.50" x2="453.40" y2="267.50" stroke="#1a8bcf" stroke-width="1.30" />
<circle cx="440.2" cy="267.5" r="2.5" fill="#1a8bcf"/>
<text x="457.20" y="257.70" font-size="11.00" font-weight="bold" text-anchor="start" fill="#000" textLength="15.00" lengthAdjust="spacing" >NT</text>
<text x="457.20" y="271.00" font-size="11.00" font-weight="bold" text-anchor="start" fill="#000" textLength="13.80" lengthAdjust="spacing" >NF</text>
<rect x="498.5" y="270.6" width="5.0" height="3.2" rx="1.5" fill="none" stroke="#6d6d6d" stroke-width="0.9"/><line x1="501" y1="270.8" x2="501" y2="273.6" stroke="#6d6d6d" stroke-width="0.8"/>
<text x="1.40" y="399.50" font-size="20.00" font-weight="bold" text-anchor="start" fill="#000" >c</text>
<line x1="16.40" y1="447.40" x2="16.40" y2="490.00" stroke="#000" stroke-width="2.60" />
<text transform="translate(9.2,480.6) rotate(-90)" font-size="10.3" font-weight="bold" textLength="31" lengthAdjust="spacingAndGlyphs">50 mV</text>
<path d="M68.38,404.77 L68.34,405.53 L68.30,406.27 L68.27,407.02 L68.25,407.76 L68.23,408.49 L68.23,409.23 L68.23,409.96 L68.25,410.68 L68.27,411.40 L68.30,412.12 L68.34,412.83 L68.39,413.54 L68.46,414.25 L68.53,414.95 L68.61,415.64 L68.70,416.33 L68.81,417.02 L68.92,417.70 L69.05,418.38 L69.18,419.05 L69.33,419.72 L69.49,420.38 L69.66,421.04 L69.84,421.69 L70.04,422.34 L70.24,422.99 L70.46,423.62 L70.69,424.25 L70.94,424.88 L71.20,425.50 L71.47,426.12 L71.75,426.73 L72.05,427.33 L72.36,427.93 L72.68,428.52 L73.01,429.11 L73.35,429.70 L73.71,430.28 L74.07,430.86 L74.44,431.43 L74.82,432.00 L75.20,432.57 L75.59,433.14 L75.98,433.70 L76.38,434.26 L76.79,434.83 L77.19,435.39 L77.60,435.95 L78.01,436.51 L78.43,437.07 L78.84,437.63 L79.25,438.20 L79.66,438.76 L80.07,439.32 L80.47,439.89 L80.87,440.46 L81.27,441.03 L81.67,441.61 L82.06,442.18 L82.45,442.76 L82.83,443.34 L83.22,443.93 L83.60,444.51 L83.98,445.10 L84.35,445.68 L84.72,446.27 L85.10,446.86 L85.46,447.45 L85.83,448.05 L86.20,448.64 L86.56,449.24 L86.92,449.84 L87.28,450.44 L87.64,451.03 L88.00,451.64 L88.35,452.24 L88.70,452.84 L89.06,453.44 L89.41,454.05 L89.76,454.65 L90.11,455.26 L90.46,455.86 L90.81,456.47 L91.16,457.07 L91.51,457.68 L91.85,458.29 L92.20,458.89 L92.55,459.50 L92.90,460.11 L93.25,460.72 L93.59,461.32 L93.94,461.93 L94.29,462.54 L94.64,463.14 L94.99,463.75 L95.34,464.35 L95.69,464.96 L96.04,465.56 L96.40,466.17 L96.75,466.77 L97.11,467.37 L97.46,467.97 L97.82,468.57 L98.18,469.17 L98.55,469.77 L98.91,470.37 L99.27,470.97 L99.64,471.56 L100.01,472.15 L100.38,472.75 L100.76,473.34 L101.13,473.93 L101.51,474.51 L101.89,475.10 L102.28,475.68 L102.67,476.27 L103.06,476.85 L103.45,477.42 L103.84,478.00 L104.24,478.57 L104.65,479.15 L105.05,479.72 L105.46,480.28 L105.87,480.85 L106.29,481.41 L106.71,481.97 L107.14,482.53 L107.57,483.08 L108.00,483.64 L108.44,484.18 L108.88,484.73 L109.32,485.27 L109.77,485.81 L110.23,486.34 L110.68,486.87 L111.15,487.40 L111.61,487.92 L112.09,488.43 L112.56,488.94 L113.05,489.45 L113.53,489.95 L114.03,490.45 L114.52,490.94 L115.02,491.42 L115.53,491.90 L116.04,492.37 L116.56,492.84 L117.09,493.29 L117.62,493.75 L118.15,494.19 L118.69,494.63 L119.24,495.06 L119.79,495.48 L120.35,495.90 L120.91,496.30 L121.48,496.70 L122.05,497.09 L122.64,497.48 L123.22,497.85 L123.82,498.21 L124.42,498.57 L125.02,498.92 L125.63,499.26 L126.25,499.59 L126.87,499.92 L127.49,500.23 L128.12,500.54 L128.76,500.85 L129.39,501.14 L130.03,501.43 L130.68,501.71 L131.32,501.99 L131.97,502.25 L132.62,502.52 L133.27,502.77 L133.93,503.02 L134.59,503.27 L135.24,503.51 L135.90,503.74 L136.56,503.97 L137.23,504.19 L137.89,504.41 L138.55,504.62 L139.22,504.83 L139.88,505.03 L140.55,505.23 L141.22,505.42 L141.89,505.61 L142.56,505.80 L143.23,505.97 L143.90,506.15 L144.58,506.32 L145.25,506.48 L145.93,506.64 L146.60,506.80 L147.28,506.95 L147.96,507.10 L148.64,507.24 L149.32,507.38 L150.00,507.51 L150.68,507.64 L151.36,507.77 L152.04,507.89 L152.73,508.01 L153.41,508.13 L154.10,508.24 L154.78,508.35 L155.47,508.45 L156.16,508.55 L156.85,508.65 L157.54,508.74 L158.23,508.83 L158.92,508.92 L159.61,509.00 L160.30,509.09 L160.99,509.16 L161.68,509.24 L162.38,509.31 L163.07,509.38 L163.77,509.45 L164.46,509.51 L165.16,509.57 L165.85,509.63 L166.55,509.68 L167.25,509.74 L167.95,509.79 L168.64,509.84 L169.34,509.88 L170.04,509.93 L170.74,509.97 L171.44,510.01 L172.14,510.05 L172.84,510.08 L173.54,510.12 L174.24,510.15 L174.94,510.18 L175.65,510.21 L176.35,510.23 L177.05,510.26 L177.75,510.28 L178.46,510.30 L179.16,510.32 L179.86,510.34 L180.57,510.36 L181.27,510.38 L181.97,510.39 L182.68,510.41 L183.38,510.42 L184.08,510.43 L184.79,510.45 L185.49,510.46 L186.20,510.47 L186.90,510.48 L187.61,510.48 L188.31,510.49 L189.01,510.50 L189.72,510.51 L190.42,510.51 L191.13,510.52 L191.83,510.53 L192.54,510.53 L193.24,510.54 L193.94,510.54 L194.65,510.55 L195.35,510.55 L196.06,510.56 L196.76,510.57 L197.46,510.57 L198.16,510.58 L198.87,510.59 L199.57,510.59 L200.27,510.60 L200.97,510.61 L201.68,510.62 L202.38,510.63 L203.08,510.64 L203.78,510.65 L204.48,510.66 L205.18,510.68 L205.88,510.69 L206.58,510.71 L207.28,510.72 L207.98,510.74 L208.68,510.76 L209.37,510.78 L210.07,510.80 L210.77,510.82 L211.46,510.85 L212.16,510.87 L212.86,510.90 L213.55,510.93 L214.24,510.96 L214.94,511.00 L215.63,511.03 L216.32,511.07 L217.02,511.11 L217.71,511.15 L218.40,511.19 L219.09,511.24 L219.78,511.28 L220.47,511.33 L221.15,511.39 L221.84,511.44 L222.53,511.50 L223.21,511.56 L223.90,511.62 L224.58,511.69 L225.26,511.76" fill="none" stroke="#1c1c1c" stroke-width="1.30" stroke-linejoin="round" stroke-linecap="round"/>
<path d="M27.3,514 L67.3,514 L68.1,404.9" fill="none" stroke="#1e83b9" stroke-width="1.40" stroke-linejoin="round" stroke-linecap="round"/>
<path d="M68.28,404.83 L68.31,405.54 L68.34,406.26 L68.37,406.98 L68.40,407.70 L68.43,408.42 L68.46,409.13 L68.49,409.85 L68.52,410.57 L68.56,411.28 L68.60,412.00 L68.64,412.71 L68.68,413.42 L68.74,414.13 L68.80,414.83 L68.86,415.53 L68.93,416.23 L69.01,416.93 L69.10,417.62 L69.20,418.31 L69.31,418.99 L69.43,419.67 L69.57,420.34 L69.71,421.01 L69.87,421.67 L70.04,422.33 L70.23,422.98 L70.43,423.63 L70.65,424.26 L70.89,424.89 L71.14,425.52 L71.41,426.13 L71.70,426.74 L72.01,427.34 L72.34,427.93 L72.68,428.52 L73.04,429.10 L73.41,429.67 L73.79,430.24 L74.19,430.80 L74.60,431.36 L75.02,431.92 L75.45,432.47 L75.89,433.01 L76.33,433.56 L76.78,434.10 L77.23,434.64 L77.69,435.17 L78.16,435.71 L78.62,436.24 L79.08,436.78 L79.55,437.31 L80.01,437.84 L80.47,438.38 L80.93,438.91 L81.39,439.45 L81.84,439.99 L82.29,440.53 L82.73,441.07 L83.18,441.61 L83.61,442.15 L84.05,442.70 L84.49,443.24 L84.92,443.79 L85.35,444.33 L85.77,444.88 L86.20,445.43 L86.62,445.98 L87.04,446.53 L87.46,447.08 L87.87,447.63 L88.29,448.18 L88.70,448.74 L89.11,449.29 L89.52,449.85 L89.93,450.40 L90.34,450.96 L90.75,451.52 L91.15,452.07 L91.56,452.63 L91.96,453.19 L92.37,453.75 L92.77,454.31 L93.17,454.87 L93.58,455.43 L93.98,455.99 L94.38,456.55 L94.78,457.11 L95.19,457.67 L95.59,458.23 L96.00,458.80 L96.40,459.36 L96.80,459.92 L97.21,460.48 L97.62,461.04 L98.03,461.61 L98.44,462.17 L98.85,462.73 L99.26,463.29 L99.67,463.86 L100.09,464.42 L100.50,464.98 L100.92,465.54 L101.34,466.11 L101.76,466.67 L102.19,467.23 L102.61,467.79 L103.04,468.35 L103.47,468.91 L103.90,469.47 L104.34,470.03 L104.77,470.58 L105.21,471.14 L105.65,471.69 L106.09,472.25 L106.54,472.80 L106.98,473.35 L107.43,473.90 L107.88,474.45 L108.34,475.00 L108.79,475.54 L109.25,476.09 L109.71,476.63 L110.17,477.17 L110.64,477.70 L111.11,478.24 L111.58,478.77 L112.05,479.30 L112.52,479.83 L113.00,480.35 L113.48,480.88 L113.96,481.40 L114.44,481.91 L114.93,482.43 L115.42,482.94 L115.91,483.44 L116.41,483.95 L116.90,484.45 L117.40,484.95 L117.90,485.44 L118.41,485.93 L118.92,486.42 L119.43,486.91 L119.94,487.38 L120.45,487.86 L120.97,488.33 L121.49,488.80 L122.02,489.26 L122.54,489.72 L123.07,490.18 L123.61,490.63 L124.14,491.07 L124.68,491.51 L125.22,491.95 L125.76,492.38 L126.31,492.81 L126.86,493.23 L127.41,493.65 L127.97,494.06 L128.53,494.46 L129.09,494.86 L129.65,495.26 L130.22,495.65 L130.79,496.03 L131.37,496.41 L131.94,496.78 L132.52,497.15 L133.11,497.51 L133.69,497.86 L134.28,498.21 L134.88,498.55 L135.47,498.88 L136.07,499.21 L136.67,499.53 L137.28,499.85 L137.89,500.16 L138.50,500.46 L139.12,500.76 L139.73,501.05 L140.36,501.34 L140.98,501.62 L141.61,501.89 L142.23,502.16 L142.87,502.42 L143.50,502.68 L144.14,502.93 L144.78,503.18 L145.42,503.42 L146.07,503.65 L146.71,503.88 L147.36,504.11 L148.02,504.33 L148.67,504.54 L149.33,504.75 L149.99,504.96 L150.65,505.16 L151.31,505.35 L151.98,505.54 L152.65,505.73 L153.32,505.91 L153.99,506.09 L154.66,506.26 L155.34,506.42 L156.02,506.59 L156.70,506.75 L157.38,506.90 L158.06,507.05 L158.75,507.20 L159.43,507.34 L160.12,507.48 L160.81,507.61 L161.50,507.74 L162.19,507.87 L162.89,507.99 L163.58,508.11 L164.28,508.22 L164.98,508.34 L165.68,508.44 L166.38,508.55 L167.08,508.65 L167.78,508.75 L168.49,508.84 L169.19,508.94 L169.90,509.02 L170.60,509.11 L171.31,509.19 L172.02,509.27 L172.73,509.35 L173.44,509.42 L174.15,509.49 L174.86,509.56 L175.58,509.63 L176.29,509.69 L177.00,509.75 L177.72,509.81 L178.43,509.87 L179.15,509.92 L179.86,509.98 L180.58,510.02 L181.30,510.07 L182.01,510.12 L182.73,510.16 L183.45,510.20 L184.16,510.24 L184.88,510.28 L185.60,510.32 L186.31,510.35 L187.03,510.39 L187.75,510.42 L188.47,510.45 L189.18,510.48 L189.90,510.50 L190.61,510.53 L191.33,510.56 L192.05,510.58 L192.76,510.60 L193.48,510.63 L194.19,510.65 L194.90,510.67 L195.62,510.69 L196.33,510.70 L197.04,510.72 L197.75,510.74 L198.46,510.76 L199.17,510.77 L199.88,510.79 L200.59,510.80 L201.30,510.82 L202.01,510.83 L202.71,510.85 L203.41,510.86 L204.12,510.88 L204.82,510.89 L205.52,510.91 L206.22,510.92 L206.92,510.94 L207.62,510.95 L208.31,510.97 L209.01,510.99 L209.70,511.00 L210.39,511.02 L211.08,511.04 L211.77,511.06 L212.46,511.07 L213.14,511.09 L213.82,511.11 L214.51,511.14 L215.19,511.16 L215.86,511.18 L216.54,511.21 L217.22,511.23 L217.89,511.26 L218.56,511.29 L219.23,511.32 L219.89,511.35 L220.56,511.38 L221.22,511.42 L221.88,511.45 L222.54,511.49 L223.19,511.53 L223.85,511.57 L224.50,511.61 L225.14,511.66" fill="none" stroke="#1e83b9" stroke-width="1.30" stroke-linejoin="round" stroke-linecap="round"/>
<line x1="28.20" y1="447.40" x2="225.30" y2="447.40" stroke="#000" stroke-width="1.70" stroke-dasharray="6.80 5.10"/>
<line x1="67.30" y1="529.20" x2="146.50" y2="529.20" stroke="#000" stroke-width="2.70" />
<text x="84.00" y="544.20" font-size="9.60" font-weight="bold" text-anchor="start" fill="#000" textLength="38.60" lengthAdjust="spacingAndGlyphs" >100 ms</text>
<line x1="155.30" y1="419.30" x2="190.80" y2="419.30" stroke="#222" stroke-width="1.40" />
<line x1="155.30" y1="431.50" x2="190.80" y2="431.50" stroke="#6a9cd4" stroke-width="1.40" />
<text x="203.70" y="422.80" font-size="10.30" font-weight="bold" text-anchor="start" fill="#000" textLength="15.20" lengthAdjust="spacing" >NT</text>
<text x="203.70" y="436.20" font-size="10.30" font-weight="bold" text-anchor="start" fill="#000" textLength="14.80" lengthAdjust="spacing" >NF</text>
<rect x="296.10" y="446.10" width="36.40" height="94.00" fill="#fff" stroke="#000" stroke-width="1.7"/>
<rect x="354.00" y="433.60" width="36.40" height="106.50" fill="#5b9bd5" stroke="#000" stroke-width="1.7"/>
<line x1="285.40" y1="425.60" x2="285.40" y2="541.00" stroke="#000" stroke-width="1.90" />
<line x1="281.30" y1="540.10" x2="401.50" y2="540.10" stroke="#000" stroke-width="1.90" />
<line x1="282.20" y1="426.00" x2="285.40" y2="426.00" stroke="#000" stroke-width="1.40" />
<text x="275.60" y="429.60" font-size="10.30" font-weight="bold" text-anchor="end" fill="#000" textLength="12.60" lengthAdjust="spacingAndGlyphs" >40</text>
<line x1="282.20" y1="454.52" x2="285.40" y2="454.52" stroke="#000" stroke-width="1.40" />
<text x="275.60" y="458.12" font-size="10.30" font-weight="bold" text-anchor="end" fill="#000" textLength="12.60" lengthAdjust="spacingAndGlyphs" >30</text>
<line x1="282.20" y1="483.05" x2="285.40" y2="483.05" stroke="#000" stroke-width="1.40" />
<text x="275.60" y="486.65" font-size="10.30" font-weight="bold" text-anchor="end" fill="#000" textLength="12.60" lengthAdjust="spacingAndGlyphs" >20</text>
<line x1="282.20" y1="511.58" x2="285.40" y2="511.58" stroke="#000" stroke-width="1.40" />
<text x="275.60" y="515.18" font-size="10.30" font-weight="bold" text-anchor="end" fill="#000" textLength="12.60" lengthAdjust="spacingAndGlyphs" >10</text>
<line x1="282.20" y1="540.10" x2="285.40" y2="540.10" stroke="#000" stroke-width="1.40" />
<text x="275.60" y="543.70" font-size="10.30" font-weight="bold" text-anchor="end" fill="#000" textLength="6.30" lengthAdjust="spacingAndGlyphs" >0</text>
<text x="306.40" y="557.00" font-size="10.30" font-weight="bold" text-anchor="start" fill="#000" textLength="15.20" lengthAdjust="spacing" >NT</text>
<text x="364.80" y="557.00" font-size="10.30" font-weight="bold" text-anchor="start" fill="#000" textLength="14.80" lengthAdjust="spacing" >NF</text>
<text x="315.60" y="396.90" font-size="10.30" font-weight="bold" text-anchor="start" fill="#000" textLength="37.60" lengthAdjust="spacingAndGlyphs" >APD50</text>
<text x="321.80" y="409.20" font-size="10.30" font-weight="bold" text-anchor="start" fill="#000" textLength="24.40" lengthAdjust="spacingAndGlyphs" >(ms)</text>
<rect x="467.30" y="445.60" width="34.50" height="94.50" fill="#fff" stroke="#000" stroke-width="1.7"/>
<rect x="522.30" y="430.20" width="34.30" height="109.90" fill="#5b9bd5" stroke="#000" stroke-width="1.7"/>
<line x1="455.40" y1="426.00" x2="455.40" y2="541.00" stroke="#000" stroke-width="1.90" />
<line x1="453.90" y1="540.10" x2="567.10" y2="540.10" stroke="#000" stroke-width="1.90" />
<line x1="452.20" y1="426.40" x2="455.40" y2="426.40" stroke="#000" stroke-width="1.40" />
<text x="446.50" y="430.00" font-size="10.30" font-weight="bold" text-anchor="end" fill="#000" textLength="18.90" lengthAdjust="spacingAndGlyphs" >100</text>
<line x1="452.20" y1="449.14" x2="455.40" y2="449.14" stroke="#000" stroke-width="1.40" />
<text x="446.50" y="452.74" font-size="10.30" font-weight="bold" text-anchor="end" fill="#000" textLength="12.60" lengthAdjust="spacingAndGlyphs" >80</text>
<line x1="452.20" y1="471.88" x2="455.40" y2="471.88" stroke="#000" stroke-width="1.40" />
<text x="446.50" y="475.48" font-size="10.30" font-weight="bold" text-anchor="end" fill="#000" textLength="12.60" lengthAdjust="spacingAndGlyphs" >60</text>
<line x1="452.20" y1="494.62" x2="455.40" y2="494.62" stroke="#000" stroke-width="1.40" />
<text x="446.50" y="498.22" font-size="10.30" font-weight="bold" text-anchor="end" fill="#000" textLength="12.60" lengthAdjust="spacingAndGlyphs" >40</text>
<line x1="452.20" y1="517.36" x2="455.40" y2="517.36" stroke="#000" stroke-width="1.40" />
<text x="446.50" y="520.96" font-size="10.30" font-weight="bold" text-anchor="end" fill="#000" textLength="12.60" lengthAdjust="spacingAndGlyphs" >20</text>
<line x1="452.20" y1="540.10" x2="455.40" y2="540.10" stroke="#000" stroke-width="1.40" />
<text x="446.50" y="543.70" font-size="10.30" font-weight="bold" text-anchor="end" fill="#000" textLength="6.30" lengthAdjust="spacingAndGlyphs" >0</text>
<text x="476.40" y="556.70" font-size="10.30" font-weight="bold" text-anchor="start" fill="#000" textLength="16.00" lengthAdjust="spacing" >NT</text>
<text x="532.10" y="556.70" font-size="10.30" font-weight="bold" text-anchor="start" fill="#000" textLength="15.60" lengthAdjust="spacing" >NF</text>
<text x="480.90" y="397.60" font-size="10.30" font-weight="bold" text-anchor="start" fill="#000" textLength="37.00" lengthAdjust="spacingAndGlyphs" >APD90</text>
<text x="486.80" y="409.60" font-size="10.30" font-weight="bold" text-anchor="start" fill="#000" textLength="25.00" lengthAdjust="spacingAndGlyphs" >(ms)</text>
</svg></body></html>
